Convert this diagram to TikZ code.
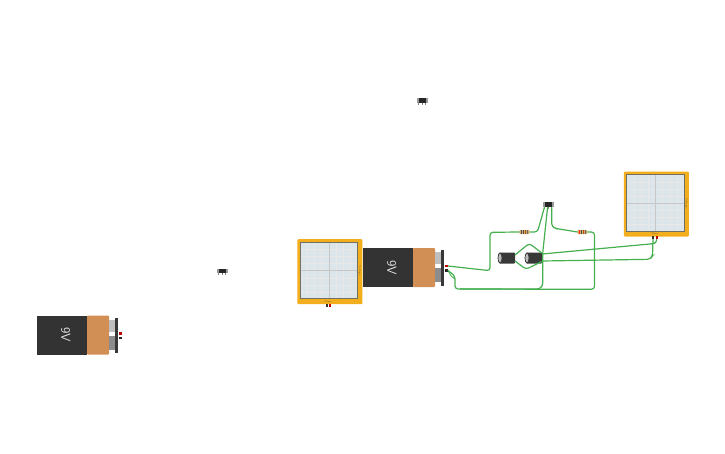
\documentclass[tikz,border=0pt]{standalone}
\usepackage{tikz}
\usetikzlibrary{positioning}
\definecolor{wiregreen}{RGB}{70,175,80}
\definecolor{scopeorange}{RGB}{242,174,28}
\definecolor{screenblue}{RGB}{220,230,234}
\definecolor{screenedge}{RGB}{112,112,100}
\definecolor{battdark}{RGB}{51,51,51}
\definecolor{battcopper}{RGB}{209,143,85}
\definecolor{restan}{RGB}{214,170,110}
\tikzset{
	box/.style={draw=none,inner sep=0pt,outer sep=0pt,minimum width=#1},
	wire/.style={wiregreen,line width=1.2pt,rounded corners=3pt},
	lead/.style={box=3pt,minimum height=2.4pt,fill=#1},
	oscope/.pic={
		\node[box=65pt,minimum height=65pt,fill=scopeorange,rounded corners=1pt] (-frame) at (0,0) {};
		\node[box=57.5pt,minimum height=56.5pt,fill=screenblue,draw=screenedge,line width=1pt] (-screen) at (-1,-1) {};
		\foreach \i in {-3,-2,-1,1,2,3} {
			\draw[black!9,line width=0.3pt] (-1+\i*7.2,-28.7) -- (-1+\i*7.2,26.7);
			\draw[black!9,line width=0.3pt] (-29.2,-1+\i*7.1) -- (27.2,-1+\i*7.1);
		}
		\draw[black!22,line width=0.5pt] (-1,-28.7) -- (-1,26.7) (-29.2,-1) -- (27.2,-1);
		\node[font=\fontsize{2.2}{2}\selectfont,text=black!70,inner sep=0pt] (-time) at (-1.5,30) {Time};
		\node[font=\fontsize{2.2}{2}\selectfont,text=black!70,inner sep=0pt,rotate=-90] (-volt) at (30,-1) {Voltage};
		\node[lead=black!80,box=2pt,minimum height=3pt] (-neg) at (-3.3,33.7) {};
		\node[lead=red!75!black,box=2pt,minimum height=3pt] (-pos) at (0.3,33.7) {};
	},
	battery/.pic={
		\node[box=50pt,minimum height=39pt,fill=battdark] (-body) at (0,0) {};
		\node[box=22pt,minimum height=39pt,fill=battcopper,rounded corners=0.8pt,right=0pt of -body] (-copper) {};
		\node[box=6pt,minimum height=12pt,fill=black!25,right=0pt of -copper,yshift=9.5pt] (-top) {};
		\node[box=6pt,minimum height=14pt,fill=black!45,right=0pt of -copper,yshift=-7.5pt] (-bottom) {};
		\node[box=3.5pt,minimum height=35.5pt,fill=black!78] (-bar) at (54.5,0.5) {};
		\node[lead=red!75!black] (-pos) at (58.5,-1.5) {};
		\node[lead=black!85] (-neg) at (58.5,3) {};
		\node[text=white!90!black,font=\sffamily\fontsize{13}{13}\selectfont,rotate=-90,inner sep=0pt] (-label) at (3.7,0) {9V};
	},
	capbarrel/.pic={
		\node[box=16pt,minimum height=11pt,fill=black!78,rounded corners=1pt] (-body) at (0,0) {};
		\draw[black!75,fill=black!25,line width=0.8pt] (-7,0) ellipse (2pt and 5pt);
	},
	resistor/.pic={
		\node[box=10pt,minimum height=4pt,fill=restan,rounded corners=0.8pt] (-body) at (0,0) {};
		\foreach \x/\c in {-2.5/#1,-0.5/black!70,1.5/orange!70!black,3/black!60}
		\fill[\c] (\x-0.5,-2) rectangle (\x+0.5,2);
	},
	chip/.pic={
		\node[box=11pt,minimum height=4.5pt,fill=black!40] (-case) at (0,0) {};
		\node[box=7pt,minimum height=4.5pt,fill=black!85] (-core) at (0,0) {};
		\foreach \x in {-3.3,0,3.3}
		\draw[black!50,line width=0.5pt] (\x,2) -- (\x,4);
	}
}

\begin{document}
\begin{tikzpicture}[x=1pt,y=-1pt]
	\useasboundingbox (0,0) rectangle (725,453);

	% parts
	\pic (battA) at (62,335) {battery};
	\pic (battB) at (388,267.5) {battery};
	\pic (scopeA) at (329.8,271.7) {oscope};
	\pic (scopeB) at (656.3,204) {oscope};
	\pic (capA) at (507,258) {capbarrel};
	\pic (capB) at (534,258) {capbarrel};
	\pic (resA) at (524.3,232) {resistor={black!70}};
	\pic (resB) at (582.4,232) {resistor={red!70!orange}};
	\pic (chipA) at (422,100.5) {chip};
	\pic (chipB) at (222,271) {chip};
	\pic (chipC) at (548,204.5) {chip};

	% pins of the chip and free bends
	\coordinate (pinA) at (544.5,207);
	\coordinate (pinB) at (547.6,207);
	\coordinate (pinC) at (551.7,207);
	\coordinate (busL) at (460,289);

	% wires
	\draw[wire] (battB-pos.east) -- (490,270.7) -- (490,232.3) -- (resA-body.west);
	\draw[wire] (resA-body.east) -- (537.5,232) -- (pinA);
	\draw[wire] (pinB) -- (542.7,253) [rounded corners=6pt] -- (542.7,289) -- (busL);
	\draw[wire] (pinC) -- (551.7,226.5) -- (556,228.5) -- (resB-body.west);
	\draw[wire] (resB-body.east) -- (594.5,232) -- (594.5,289.3) -- (busL);
	\draw[wire] (battB-neg.east) -- (455,276) -- (455,289) -- (busL);
	\draw[wire,line width=0.9pt,rounded corners=1pt] (battB-neg.east) -- (451,276) -- (455,279);
	\draw[wire] (capA-body.east) ++(0,-3) -- (529.3,243.3) -- (541.7,253);
	\draw[wire] (capA-body.east) ++(0,3) -- (526,269.3) -- (541.7,261.5);
	\draw[wire] (capB-body.east) ++(0,-4) -- (652,243.8) -- (656.6,243) -- (scopeB-pos.south);
	\draw[wire] (capB-body.east) ++(0,3) -- (650,259.3) -- (652.5,256) -- (scopeB-neg.south);
\end{tikzpicture}
\end{document}
